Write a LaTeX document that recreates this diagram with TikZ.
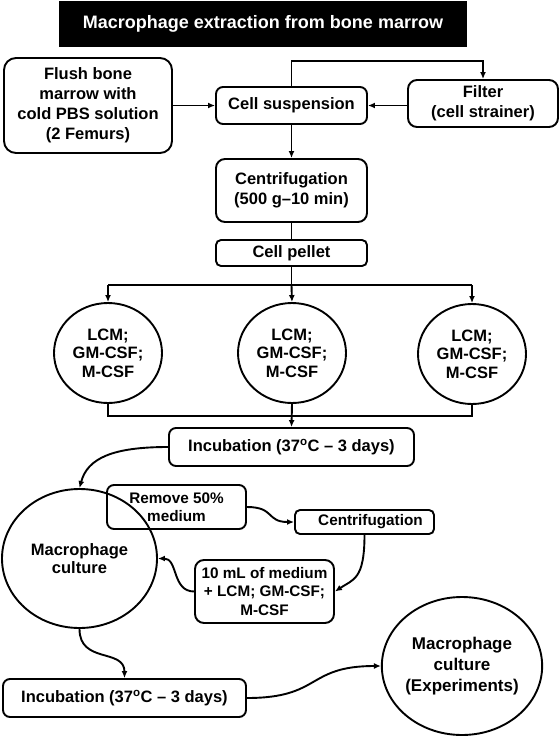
\documentclass[tikz,border=0pt]{standalone}
\usepackage{fontspec}
\setmainfont{Liberation Sans}
\usetikzlibrary{arrows.meta,shapes.geometric}
\begin{document}
\begin{tikzpicture}[x=1pt,y=-1pt,
  line width=1.9pt,
  arr/.style={-{Latex[length=7pt,width=6pt]}},
  box/.style={draw,rounded corners=7pt,inner sep=0pt,align=center,font=\bfseries\fontsize{16.5}{20}\selectfont},
  sbox/.style={box,font=\bfseries\fontsize{15.3}{18.5}\selectfont},
  oval/.style={draw,ellipse,inner sep=0pt,align=center,font=\bfseries\fontsize{16.5}{18.5}\selectfont}]
\useasboundingbox (0,0) rectangle (560,737);
% title
\node[fill=black,minimum width=408,minimum height=46,inner sep=0pt,text=white,font=\bfseries\fontsize{18}{20}\selectfont] (title) at (263,24) {Macrophage extraction from bone marrow};
% top part
\node[box,rounded corners=12pt,minimum width=168,minimum height=95] (flush) at (88,105.5) {Flush bone\\marrow with\\cold PBS solution\\(2 Femurs)};
\node[box,minimum width=151,minimum height=37] (susp) at (291.5,105.5) {Cell suspension};
\node[box,rounded corners=9pt,minimum width=150,minimum height=47] (filter) at (483,103.5) {Filter\\(cell strainer)};
\node[box,rounded corners=9pt,minimum width=151,minimum height=63] (cent1) at (291.5,190.5) {Centrifugation\\(500 g–10 min)};
\node[box,rounded corners=5pt,minimum width=151,minimum height=26] (pellet) at (291.5,253) {Cell pellet};
% ovals
\node[oval,minimum width=108,minimum height=100] (c1) at (108,353) {LCM;\\GM-CSF;\\M-CSF};
\node[oval,minimum width=108,minimum height=100] (c2) at (292,353) {LCM;\\GM-CSF;\\M-CSF};
\node[oval,minimum width=108,minimum height=100] (c3) at (472,354) {LCM;\\GM-CSF;\\M-CSF};
\node[box,minimum width=245,minimum height=38] (inc1) at (291.5,447) {Incubation (37\textsuperscript{o}C – 3 days)};
% bottom part
\node[oval,minimum width=155,minimum height=139] (mac) at (79.5,558.5) {Macrophage\\culture};
\node[sbox,minimum width=139,minimum height=44] (remove) at (176.5,507) {Remove 50\%\\medium};
\node[sbox,rounded corners=5pt,minimum width=139,minimum height=24] (cent2) at (364.5,522) {\hspace*{12pt}Centrifugation};
\node[sbox,rounded corners=9pt,minimum width=139,minimum height=63] (ten) at (264.5,591.5) {10 mL of medium\\+ LCM; GM-CSF;\\M-CSF};
\node[box,minimum width=243,minimum height=38] (inc2) at (124.5,698) {Incubation (37\textsuperscript{o}C – 3 days)};
\node[oval,minimum width=158,minimum height=138,font=\bfseries\fontsize{17}{21}\selectfont] (exp) at (462,666) {Macrophage\\culture\\(Experiments)};
% coordinates
\coordinate (loopR) at (483,61);
\coordinate (br) at (291.5,285);
\coordinate (mg) at (292,416);
% connectors top
\draw[arr] (flush.east) -- (susp.west);
\draw[arr] (filter.west |- susp.east) -- (susp.east);
\draw[arr] (susp.north) -- (susp.north |- loopR) -- (loopR) -- (filter.north);
\draw[arr] (susp.south) -- (cent1.north);
\draw (cent1.south) -- (pellet.north);
\draw (pellet.south) -- (br);
\draw (c1.north |- br) -- (c3.north |- br);
\draw[arr] (c1.north |- br) -- (c1.north);
\draw[arr] (br) -- (c2.north);
\draw[arr] (c3.north |- br) -- (c3.north);
\draw (c1.south) -- (c1.south |- mg) -- (c3.south |- mg) -- (c3.south);
\draw[arr] (c2.south) -- (inc1.north);
% connectors bottom
\draw[arr] (inc1.west) .. controls +(-55,0) and +(8,-30) .. (mac.north);
\draw[arr] (remove.east) .. controls +(28,0) and +(-28,0) .. (cent2.west);
\draw[arr] (cent2.south) .. controls +(0,45) and +(18,-12) .. (ten.east);
\draw[arr] (ten.west) .. controls +(-22,0) and +(20,0) .. (mac.east);
\draw[arr] (mac.south) .. controls +(0,35) and +(0,-30) .. (inc2.north);
\draw[arr] (inc2.east) .. controls +(75,0) and +(-75,0) .. (exp.west);
\end{tikzpicture}
\end{document}
